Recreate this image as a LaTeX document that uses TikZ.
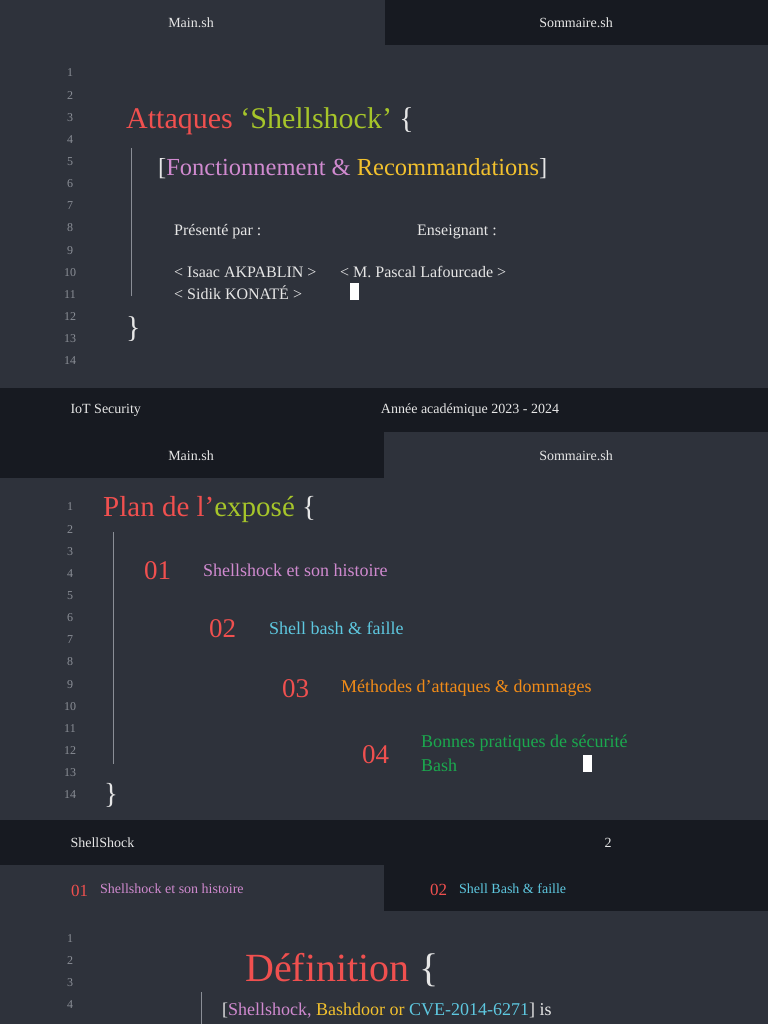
\documentclass[tikz,border=0pt]{standalone}
\usepackage{fontspec}
\setmainfont{Liberation Serif}
\definecolor{bgc}{HTML}{2E323B}
\definecolor{dark}{HTML}{171A21}
\definecolor{tred}{HTML}{F0504F}
\definecolor{tgreen}{HTML}{A6C52A}
\definecolor{tpink}{HTML}{D08ACF}
\definecolor{tyel}{HTML}{F2C12E}
\definecolor{tcyan}{HTML}{5EC8E0}
\definecolor{torange}{HTML}{F28C18}
\definecolor{tgr}{HTML}{1BA84E}
\definecolor{lnum}{HTML}{8A8E96}
\definecolor{wt}{HTML}{E6E6E6}
\begin{document}
\begin{tikzpicture}[x=1pt,y=-1pt,
  ln/.style={text=lnum,font=\fontsize{12}{12}\selectfont,anchor=center},
  tab/.style={text=wt,font=\fontsize{14}{14}\selectfont,anchor=center},
  wtx/.style={text=wt,font=\fontsize{16}{16}\selectfont,anchor=west,inner sep=0},
  bar/.style={draw=lnum,line width=0.8pt}]
\useasboundingbox (0,0) rectangle (768,1024);
\fill[bgc] (0,0) rectangle (768,1024);
% slide 1
\fill[dark] (385,0) rectangle (768,45);
\fill[dark] (0,388) rectangle (768,432);
\node[tab] (t1a) at (191,23) {Main.sh};
\node[tab] (t1b) at (576,23) {Sommaire.sh};
\foreach \i in {1,...,14} \node[ln] (a\i) at (70,{73+(\i-1)*22.15}) {\i};
\node[anchor=west,inner sep=0,font=\fontsize{30}{30}\selectfont] (tt) at (126,121) {\textcolor{tred}{Attaques} \textcolor{tgreen}{‘Shellshock’} \textcolor{wt}{\{}};
\draw[bar] (131,148) -- (131,296);
\node[anchor=west,inner sep=0,font=\fontsize{24.5}{24.5}\selectfont] (st) at (158,169) {\textcolor{wt}{[}\textcolor{tpink}{Fonctionnement \&} \textcolor{tyel}{Recommandations}\textcolor{wt}{]}};
\node[wtx] (p1) at (174,232) {Présenté par :};
\node[wtx] (p2) at (417,232) {Enseignant :};
\node[wtx] (p3) at (174,272) {< Isaac AKPABLIN >};
\node[wtx] (p4) at (340,272) {< M. Pascal Lafourcade >};
\node[wtx] (p5) at (174,293) {< Sidik KONATÉ >};
\fill[white] (350,283) rectangle (359,300);
\node[anchor=west,inner sep=0,text=wt,font=\fontsize{30}{30}\selectfont] (cb1) at (126,329) {\}};
\node[tab,anchor=west] (f1a) at (67,410) {IoT Security};
\node[tab] (f1b) at (470,410) {Année académique 2023 - 2024};
% slide 2
\fill[dark] (0,432) rectangle (384,478);
\fill[dark] (0,820) rectangle (768,865);
\node[tab] (t2a) at (191,456) {Main.sh};
\node[tab] (t2b) at (576,456) {Sommaire.sh};
\foreach \i in {1,...,14} \node[ln] (b\i) at (70,{507+(\i-1)*22.15}) {\i};
\node[anchor=west,inner sep=0,font=\fontsize{29}{29}\selectfont] (pt) at (103,510) {\textcolor{tred}{Plan de l’}\textcolor{tgreen}{exposé} \textcolor{wt}{\{}};
\draw[bar] (113,532) -- (113,764);
\node[anchor=west,inner sep=0,text=tred,font=\fontsize{27}{27}\selectfont] (n1) at (144,571) {01};
\node[anchor=west,inner sep=0,text=tpink,font=\fontsize{18}{18}\selectfont] (s1) at (203,570) {Shellshock et son histoire};
\node[anchor=west,inner sep=0,text=tred,font=\fontsize{27}{27}\selectfont] (n2) at (209,629) {02};
\node[anchor=west,inner sep=0,text=tcyan,font=\fontsize{18}{18}\selectfont] (s2) at (269,628) {Shell bash \& faille};
\node[anchor=west,inner sep=0,text=tred,font=\fontsize{27}{27}\selectfont] (n3) at (282,689) {03};
\node[anchor=west,inner sep=0,text=torange,font=\fontsize{18}{18}\selectfont] (s3) at (341,688) {Méthodes d’attaques \& dommages};
\node[anchor=west,inner sep=0,text=tred,font=\fontsize{27}{27}\selectfont] (n4) at (362,755) {04};
\node[anchor=west,inner sep=0,text=tgr,font=\fontsize{18}{18}\selectfont] (s4) at (421,743) {Bonnes pratiques de sécurité};
\node[anchor=west,inner sep=0,text=tgr,font=\fontsize{18}{18}\selectfont] (s5) at (421,765) {Bash};
\fill[white] (583,755) rectangle (592,772);
\node[anchor=west,inner sep=0,text=wt,font=\fontsize{29}{29}\selectfont] (cb2) at (104,795) {\}};
\node[tab,anchor=west] (f2a) at (67,843) {ShellShock};
\node[tab] (f2b) at (608,843) {2};
% slide 3
\fill[dark] (384,865) rectangle (768,911);
\node[anchor=west,inner sep=0,text=tred,font=\fontsize{17}{17}\selectfont] (m1) at (71,891) {01};
\node[anchor=west,inner sep=0,text=tpink,font=\fontsize{14}{14}\selectfont] (m2) at (100,889) {Shellshock et son histoire};
\node[anchor=west,inner sep=0,text=tred,font=\fontsize{17}{17}\selectfont] (m3) at (430,890) {02};
\node[anchor=west,inner sep=0,text=tcyan,font=\fontsize{14}{14}\selectfont] (m4) at (459,889) {Shell Bash \& faille};
\foreach \i in {1,...,4} \node[ln] (c\i) at (70,{939+(\i-1)*21.7}) {\i};
\node[anchor=west,inner sep=0,font=\fontsize{40}{40}\selectfont] (df) at (245,970) {\textcolor{tred}{Définition} \textcolor{wt}{\{}};
\draw[bar] (201,992) -- (201,1024);
\node[anchor=west,inner sep=0,font=\fontsize{18}{18}\selectfont] (dl) at (222,1011) {\textcolor{wt}{[}\textcolor{tpink}{Shellshock,} \textcolor{tyel}{Bashdoor or} \textcolor{tcyan}{CVE-2014-6271}\textcolor{wt}{] is}};
\end{tikzpicture}
\end{document}
